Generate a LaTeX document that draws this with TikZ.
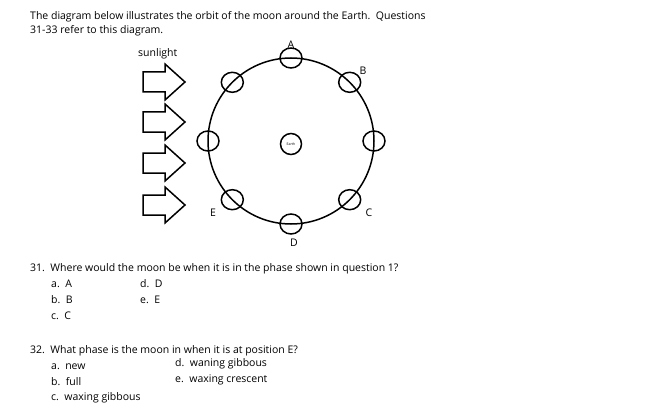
\documentclass[tikz,border=0pt]{standalone}
\usepackage{fontspec}
\usetikzlibrary{shapes.geometric}
\setmainfont{Open Sans}
\begin{document}
\begin{tikzpicture}[x=1pt,y=-1pt,
  txt/.style={anchor=base west,inner sep=0pt,font=\fontsize{10.5}{12}\selectfont},
  lbl/.style={inner sep=0pt,font=\fontsize{10.5}{12}\selectfont},
  moon/.style={draw,line width=1.5pt,ellipse,minimum width=22pt,minimum height=20pt,inner sep=0pt},
  sun/.style={draw,line width=1.5pt,line join=miter}]
\useasboundingbox (0,0) rectangle (650,417);
\node[txt] (t1) at (30,20) {The diagram below illustrates the orbit of the moon around the Earth.\ \ Questions};
\node[txt] (t2) at (30,34) {31-33 refer to this diagram.};
\node[txt] (sl) at (138,57) {sunlight};
\draw[line width=1.5pt] (291,141) circle (83);
\node[draw,line width=1.5pt,circle,minimum size=21pt,inner sep=0pt,font=\fontsize{3.5}{4}\selectfont] (earth) at (291,144) {Earth};
\foreach \a/\n in {90/ma,45/mb,0/mr,-45/mc,-90/md,-135/me,180/ml,135/mtl}{
  \node[moon] (\n) at ({291+83*cos(\a)},{141-83*sin(\a)}) {};}
\node[lbl] (A) at (291,45) {A};
\node[lbl] (B) at (363,71) {B};
\node[lbl] (C) at (369,213) {C};
\node[lbl] (D) at (294,243) {D};
\node[lbl] (E) at (213,213) {E};
\foreach \y in {82,122,163,205}{
  \draw[sun] (143,\y-10) -- (165,\y-10) -- (165,\y-18) -- (185,\y) -- (165,\y+18) -- (165,\y+10) -- (143,\y+10) -- cycle;}
\node[txt] (q1) at (30,271) {31.\ \ Where would the moon be when it is in the phase shown in question 1?};
\node[txt] (q1a) at (51,287) {a.\ \ A};
\node[txt] (q1b) at (51,303) {b.\ \ B};
\node[txt] (q1c) at (51,319) {c.\ \ C};
\node[txt] (q1d) at (140,287) {d.\ \ D};
\node[txt] (q1e) at (140,303) {e.\ \ E};
\node[txt] (q2) at (30,353) {32.\ \ What phase is the moon in when it is at position E?};
\node[txt] (q2a) at (51,369) {a.\ \ new};
\node[txt] (q2b) at (51,385) {b.\ \ full};
\node[txt] (q2c) at (51,400) {c.\ \ waxing gibbous};
\node[txt] (q2d) at (175,366) {d.\ \ waning gibbous};
\node[txt] (q2e) at (175,382) {e.\ \ waxing crescent};
\end{tikzpicture}
\end{document}
